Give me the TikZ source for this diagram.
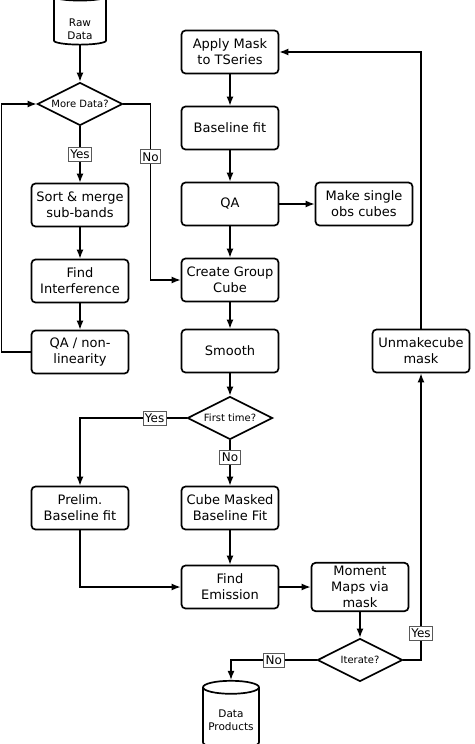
\documentclass[tikz,border=0pt]{standalone}
\usepackage{fontspec}
\setmainfont{DejaVu Sans}
\usetikzlibrary{shapes.geometric,arrows.meta,positioning}

\begin{document}
\begin{tikzpicture}[->,>={Latex[length=9pt,width=7pt]},line width=1.5pt,node distance=76pt]
  \tikzstyle{proc}=[rectangle,rounded corners=4pt,draw=black,text=black,line width=1.7pt,minimum width=97pt,minimum height=43pt,align=center,font=\fontsize{13}{16}\selectfont]
  \tikzstyle{decision}=[diamond,draw=black,text=black,line width=1.7pt,aspect=2,inner sep=1pt,minimum width=85pt,minimum height=43pt,font=\fontsize{10}{12}\selectfont]
  \tikzstyle{store}=[cylinder,shape border rotate=90,aspect=0.25,draw=black,text=black,line width=1.7pt,inner ysep=1pt,minimum width=52pt,minimum height=52pt,align=center,font=\fontsize{10.5}{13}\selectfont]
  \tikzstyle{tag}=[rectangle,draw=black!65,text=black,line width=0.8pt,fill=white,inner xsep=2pt,inner ysep=2.5pt,font=\fontsize{12}{13}\selectfont]

  \useasboundingbox (0,0) rectangle (474pt,-744pt);

  % left column
  \node[decision]      (more) at (80pt,-104pt) {More Data?};
  \node[store]         (raw) [above of=more, yshift=6pt] {\strut\\Raw\\Data};
  \node[proc]          (sort) [below of=more, yshift=-25pt] {Sort \& merge\\sub-bands};
  \node[proc]          (interf) [below of=sort] {Find\\Interference};
  \node[proc]          (qanl) [below of=interf, yshift=5pt] {QA / non-\\linearity};

  % right column
  \node[proc]          (apply) at (230pt,-52pt) {Apply Mask\\to TSeries};
  \node[proc]          (base) [below of=apply] {Baseline fit};
  \node[proc]          (qa) [below of=base] {QA};
  \node[proc]          (single) [right of=qa, xshift=58pt] {Make single\\obs cubes};
  \node[proc]          (group) [below of=qa] {Create Group\\Cube};
  \node[proc]          (smooth) [below of=group, yshift=5pt] {Smooth};
  \node[proc]          (unmake) [right of=smooth, xshift=115pt] {Unmakecube\\mask};
  \node[decision]      (first) [below of=smooth, yshift=9pt] {First time?};
  \node[proc]          (cmbf) [below of=first, yshift=-14pt] {Cube Masked\\Baseline Fit};
  \node[proc]          (prelim) [left of=cmbf, xshift=-74pt] {Prelim.\\Baseline fit};
  \node[proc]          (emis) [below of=cmbf, yshift=-3pt] {Find\\Emission};
  \node[proc]          (moment) [right of=emis, xshift=54pt] {Moment\\Maps via\\mask};
  \node[decision]      (iter) [below of=moment, yshift=3pt] {Iterate?};
  \node[store]         (prod) [below of=iter, xshift=-129pt, yshift=16pt, minimum width=56pt, minimum height=68pt] {Data\\Products};

  \path (raw) edge              (more)
        (more) edge             node[tag] {Yes} (sort)
        (sort) edge             (interf)
        (interf) edge           (qanl)
        (apply) edge            (base)
        (base) edge             (qa)
        (qa) edge               (single)
             edge               (group)
        (group) edge            (smooth)
        (smooth) edge           (first)
        (first) edge            node[tag, pos=0.38] {No} (cmbf)
        (cmbf) edge             (emis)
        (emis) edge             (moment)
        (moment) edge           (iter);

  \draw (more.east) -| node[tag, pos=0.65] {No} ([xshift=-30pt]group.west) -- (group.west);
  \draw (qanl.west) -- ++(-29pt,0) |- (more.west);
  \draw (first.west) -| node[tag, pos=0.15] {Yes} (prelim.north);
  \draw (prelim.south) |- (emis.west);
  \draw (iter.east) -| node[tag, pos=0.547] {Yes} (unmake.south);
  \draw (iter.west) -| node[tag, pos=0.25] {No} (prod.top);
  \draw (unmake.north) |- (apply.east);
\end{tikzpicture}
\end{document}
